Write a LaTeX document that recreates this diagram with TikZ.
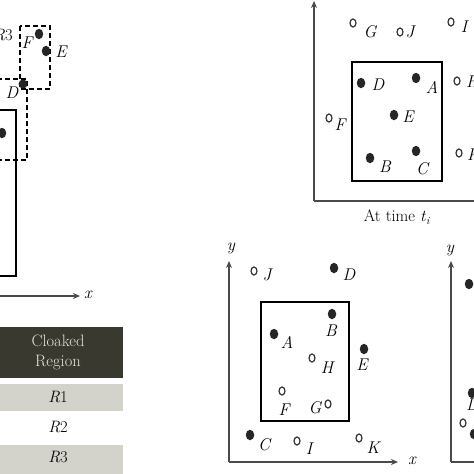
\documentclass[tikz,border=0pt]{standalone}
\usepackage{fontspec}
\usetikzlibrary{shapes.geometric,arrows.meta}
\definecolor{hdr}{HTML}{3A3930}
\definecolor{hdrtxt}{HTML}{E6E4DA}
\definecolor{rowgray}{HTML}{D3D3CB}
\definecolor{axisc}{HTML}{4A4A4A}
\tikzset{
  fdot/.style={ellipse, fill=black!85, minimum width=8.5pt, minimum height=10.5pt, inner sep=0pt},
  odot/.style={ellipse, draw=black!80, fill=white, line width=1.2pt, minimum width=6pt, minimum height=8pt, inner sep=0pt},
  lbl/.style={font=\fontsize{17}{20}\selectfont\itshape, inner sep=0pt},
  txt/.style={font=\fontsize{16.5}{20}\selectfont, inner sep=0pt},
  axis/.style={draw=axisc, line width=1.1pt, -{Stealth[length=7pt,width=6pt]}},
  axisline/.style={draw=axisc, line width=1.1pt},
  region/.style={draw=black, line width=2pt},
  cloak/.style={draw=black, line width=2pt, dash pattern=on 5pt off 3pt},
}
\begin{document}
\begin{tikzpicture}[x=1pt,y=-1pt]
\useasboundingbox (0,0) rectangle (474,474);
\clip (0,0) rectangle (474,474);

% ---------- left panel ----------
\draw[cloak] (20,26) rectangle (50,89);
\draw[cloak] (-10,79) rectangle (27,160);
\draw[region] (-10,110) rectangle (16,276);
\node[txt, anchor=east] (r3t) at (13,35) {\textit{R}3};
\node[fdot] (lF) at (39,34) {};
\node[fdot] (lE) at (46,51) {};
\node[fdot, minimum width=9pt, minimum height=9pt] (lD) at (23,84) {};
\node[fdot] (lX) at (2,133) {};
\node[lbl] (lFl) at (27,43) {F};
\node[lbl] (lEl) at (61,52) {E};
\node[lbl] (lDl) at (12,93) {D};
\coordinate (lxs) at (-10,296);
\coordinate (lxe) at (80,296);
\draw[axis] (lxs) -- (lxe);
\node[lbl] (lxl) at (88,295) {x};

% ---------- table ----------
\fill[hdr] (-5,327) rectangle (123,378);
\node[txt, text=hdrtxt, align=center] (th) at (58,352) {Cloaked\\Region};
\fill[rowgray] (-5,384) rectangle (123,411);
\fill[rowgray] (-5,445) rectangle (123,474);
\node[txt] (t1) at (58,397) {\textit{R}1};
\node[txt] (t2) at (58,427) {\textit{R}2};
\node[txt] (t3) at (58,457) {\textit{R}3};

% ---------- top right panel ----------
\coordinate (to) at (314,201);
\coordinate (ty) at (314,1);
\coordinate (tx) at (480,201);
\draw[axis] (to) -- (ty);
\draw[axisline] (to) -- (tx);
\draw[region] (352,62) rectangle (442,181);
\node[odot] (tG) at (353,23) {};
\node[odot] (tJ) at (400,32) {};
\node[odot] (tI) at (451,22) {};
\node[fdot] (tD) at (361,83) {};
\node[fdot] (tA) at (416,78) {};
\node[odot] (tH) at (457,81) {};
\node[odot] (tF) at (329,118) {};
\node[fdot] (tE) at (394,115) {};
\node[fdot] (tB) at (370,158) {};
\node[fdot] (tC) at (416,151) {};
\node[odot] (tK) at (459,153) {};
\node[lbl] (tGl) at (370,32) {G};
\node[lbl] (tJl) at (410,32) {J};
\node[lbl] (tIl) at (464,27) {I};
\node[lbl] (tDl) at (378,85) {D};
\node[lbl] (tAl) at (432,87) {A};
\node[lbl, anchor=west] (tHl) at (466,82) {H};
\node[lbl] (tFl) at (340,125) {F};
\node[lbl] (tEl) at (408,117) {E};
\node[lbl] (tBl) at (385,167) {B};
\node[lbl] (tCl) at (422,169) {C};
\node[lbl, anchor=west] (tKl) at (467,155) {K};
\node[txt] (ttime) at (397,217) {At time \textit{t}\raisebox{-0.35ex}{\fontsize{11}{12}\selectfont\textit{i}}};

% ---------- bottom middle panel ----------
\coordinate (bo) at (229,462);
\coordinate (by) at (229,261);
\coordinate (bx) at (398,462);
\draw[axis] (bo) -- (by);
\draw[axis] (bo) -- (bx);
\node[lbl] (byl) at (231,248) {y};
\node[lbl] (bxl) at (412,461) {x};
\draw[region] (261,302) rectangle (349,421);
\node[odot] (bJ) at (254,271) {};
\node[fdot] (bD) at (334,268) {};
\node[fdot] (bB) at (332,314) {};
\node[fdot] (bA) at (274,334) {};
\node[fdot] (bE) at (364,349) {};
\node[odot] (bH) at (312,358) {};
\node[odot] (bF) at (282,391) {};
\node[odot] (bG) at (328,404) {};
\node[fdot] (bC) at (250,435) {};
\node[odot] (bI) at (297,441) {};
\node[odot] (bK) at (359,438) {};
\node[lbl] (bJl) at (267,275) {J};
\node[lbl] (bDl) at (349,275) {D};
\node[lbl] (bBl) at (331,331) {B};
\node[lbl] (bAl) at (287,342) {A};
\node[lbl] (bEl) at (362,365) {E};
\node[lbl] (bHl) at (327,368) {H};
\node[lbl] (bFl) at (284,410) {F};
\node[lbl] (bGl) at (315,408) {G};
\node[lbl] (bCl) at (264,445) {C};
\node[lbl] (bIl) at (309,449) {I};
\node[lbl] (bKl) at (373,448) {K};

% ---------- bottom right panel ----------
\coordinate (ro) at (451,462);
\coordinate (ry) at (451,261);
\coordinate (rx) at (480,462);
\draw[axis] (ro) -- (ry);
\draw[axisline] (ro) -- (rx);
\node[lbl] (ryl) at (450,250) {y};
\node[fdot] (r1) at (469,284) {};
\node[fdot] (r2) at (472,393) {};
\node[lbl, anchor=west] (r2l) at (466,405) {D};
\node[odot] (r3) at (463,423) {};
\node[fdot] (r4) at (474,434) {};
\end{tikzpicture}
\end{document}
